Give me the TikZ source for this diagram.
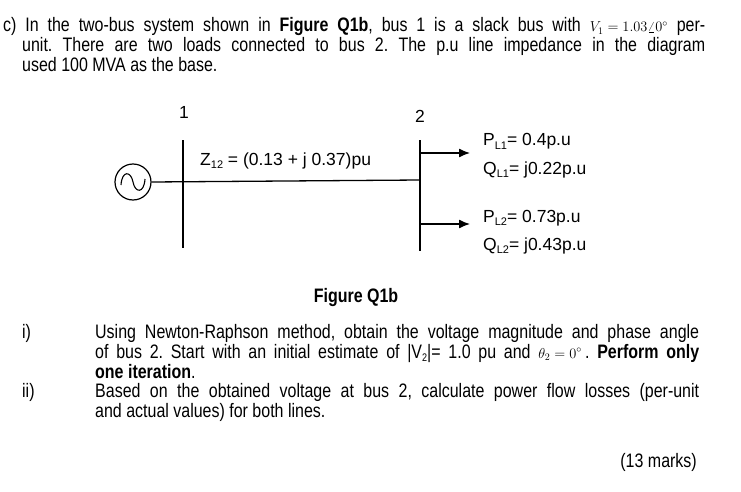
\documentclass[tikz,border=0pt]{standalone}
\usetikzlibrary{arrows.meta}
\usepackage{fontspec}
\setmainfont{Liberation Sans}[FakeStretch=0.82]
\newfontfamily\diagfont{Liberation Sans}
\newcommand\mysub[1]{\raisebox{-0.35ex}{\fontsize{11}{12}\selectfont #1}}
\newcommand\mymath[1]{{\fontsize{14}{16}\selectfont$#1$}}
\frenchspacing
\begin{document}
\begin{tikzpicture}[x=1pt,y=-1pt,
  txt/.style={anchor=base west,inner sep=0pt,font=\fontsize{19.5}{22}\selectfont},
  dtxt/.style={anchor=base west,inner sep=0pt,font=\diagfont\fontsize{17.5}{20}\selectfont},
  busbar/.style={line width=1.6pt},
  wire/.style={line width=1.3pt},
  arr/.style={line width=1.3pt,-{Latex[length=11pt,width=9pt]}}]
\useasboundingbox (0,0) rectangle (741,492);
% top text
\node[txt] (t1) at (3,32) {\makebox[702pt][s]{c) In the two-bus system shown in \textbf{Figure Q1b}, bus 1 is a slack bus with \mbox{\mymath{V_1=1.03\angle 0^\circ}} per-}};
\node[txt] (t2) at (22,52) {\makebox[683pt][s]{unit. There are two loads connected to bus 2. The p.u line impedance in the diagram}};
\node[txt] (t3) at (22,72) {used 100 MVA as the base.};
% diagram
\node[draw,circle,minimum size=36pt,inner sep=0pt,line width=1.2pt] (gen) at (133,182) {};
\draw[line width=1.1pt] (121,185) .. controls (122,170) and (131,171) .. (gen.center) .. controls (135,193) and (144,194) .. (145,179);
\coordinate (b1t) at (183,140); \coordinate (b1b) at (183,248);
\coordinate (b2t) at (420,140); \coordinate (b2b) at (420,251);
\draw[busbar] (b1t) -- (b1b);
\draw[busbar] (b2t) -- (b2b);
\coordinate (b2m) at (420,180);
\draw[wire] (gen.east) -- (b2m);
\coordinate (a1s) at (420,153); \coordinate (a1e) at (470,153);
\coordinate (a2s) at (420,224); \coordinate (a2e) at (470,224);
\draw[arr] (a1s) -- (a1e);
\draw[arr] (a2s) -- (a2e);
\node[dtxt] (n1) at (179,119) {1};
\node[dtxt] (n2) at (415,122) {2};
\node[dtxt] (z) at (200,165) {Z\mysub{12} = (0.13 + j 0.37)pu};
\node[dtxt] (p1) at (483,146) {P\mysub{L1}= 0.4p.u};
\node[dtxt] (q1) at (483,174) {Q\mysub{L1}= j0.22p.u};
\node[dtxt] (p2) at (483,222) {P\mysub{L2}= 0.73p.u};
\node[dtxt] (q2) at (483,250) {Q\mysub{L2}= j0.43p.u};
\node[txt,anchor=base] (fig) at (356,302) {\textbf{Figure Q1b}};
% questions
\node[txt] (i) at (22,338) {i)};
\node[txt] (l1) at (95,338) {\makebox[604pt][s]{Using Newton-Raphson method, obtain the voltage magnitude and phase angle}};
\node[txt] (l2) at (95,358) {\makebox[604pt][s]{of bus 2. Start with an initial estimate of |V\mysub{2}|= 1.0 pu and \mbox{\mymath{\theta_2=0^\circ}}\,. \textbf{Perform only}}};
\node[txt] (l3) at (95,378) {\textbf{one iteration}.};
\node[txt] (ii) at (22,397) {ii)};
\node[txt] (l4) at (95,397) {\makebox[604pt][s]{Based on the obtained voltage at bus 2, calculate power flow losses (per-unit}};
\node[txt] (l5) at (95,417) {and actual values) for both lines.};
\node[txt,anchor=base east] (marks) at (697,467) {(13 marks)};
\end{tikzpicture}
\end{document}
